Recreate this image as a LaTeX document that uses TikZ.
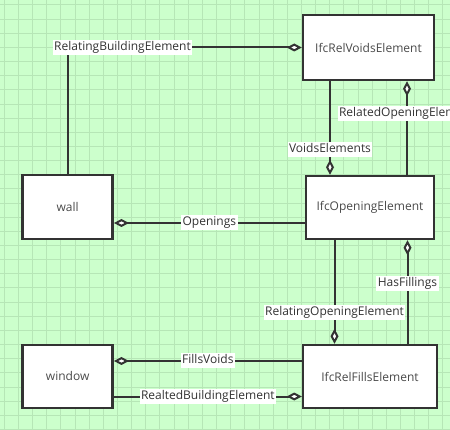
\documentclass[tikz,border=0pt]{standalone}
\usepackage{fontspec}
\setmainfont{Open Sans}
\usetikzlibrary{arrows.meta}
\definecolor{bg}{HTML}{CCFFCC}
\definecolor{gridc}{HTML}{B6E6B6}
\definecolor{ink}{HTML}{333333}
\definecolor{txt}{HTML}{4A4A4A}
\begin{document}
\begin{tikzpicture}[x=1pt,y=-1pt,
  box/.style={draw=ink, line width=2.5pt, fill=white, inner sep=0pt, font=\fontsize{12}{14}\selectfont, text=txt},
  conn/.style={draw=ink, line width=2pt},
  lab/.style={fill=white, inner sep=1.5pt, text height=9pt, text depth=3pt, font=\fontsize{12}{14}\selectfont, text=ink},
  aggend/.style={-{Diamond[length=15pt,width=8pt,fill=white]}},
  aggstart/.style={{Diamond[length=15pt,width=8pt,fill=white]}-}
]
\useasboundingbox (0,0) rectangle (450,430);
\fill[bg] (0,0) rectangle (450,430);
\foreach \i in {0,...,31} { \draw[gridc, line width=1pt] (4.3+14.15*\i,0) -- (4.3+14.15*\i,430); }
\foreach \j in {0,...,30} { \draw[gridc, line width=1pt] (0,5+14.15*\j) -- (450,5+14.15*\j); }

% boxes
\node[box, minimum width=131pt, minimum height=65pt] (rv) at (368.5,47.5) {IfcRelVoidsElement};
\node[box, minimum width=128pt, minimum height=63pt] (op) at (370,207.5) {IfcOpeningElement};
\node[box, minimum width=134pt, minimum height=63pt] (rf) at (370,376.5) {IfcRelFillsElement};
\node[box, minimum width=90pt, minimum height=64pt] (wall) at (67.7,207) {wall};
\node[box, minimum width=90pt, minimum height=63pt] (win) at (67.7,376.5) {window};

% connectors
\draw[conn, aggend] (wall.north) |- node[lab, pos=0.617] {RelatingBuildingElement} (rv.west);
\draw[conn, aggend] (rv.south -| 330,0) -- node[lab, pos=0.725] {VoidsElements} (op.north -| 330,0);
\draw[conn, aggstart] (rv.south -| 407,0) -- node[lab, pos=0.345] {RelatedOpeningElement} (op.north -| 407,0);
\draw[conn, aggstart] (wall.east |- 0,223) -- node[lab] {Openings} (op.west |- 0,223);
\draw[conn, aggstart] (op.south -| 407.5,0) -- node[lab, pos=0.414] {HasFillings} (rf.north -| 407.5,0);
\draw[conn, aggend] (op.south -| 334.5,0) -- node[lab, pos=0.70] {RelatingOpeningElement} (rf.north -| 334.5,0);
\draw[conn, aggstart] (win.east |- 0,361) -- node[lab] {FillsVoids} (rf.west |- 0,361);
\draw[conn, aggend] (win.east |- 0,396.5) -- node[lab] {RealtedBuildingElement} (rf.west |- 0,396.5);
\end{tikzpicture}
\end{document}
